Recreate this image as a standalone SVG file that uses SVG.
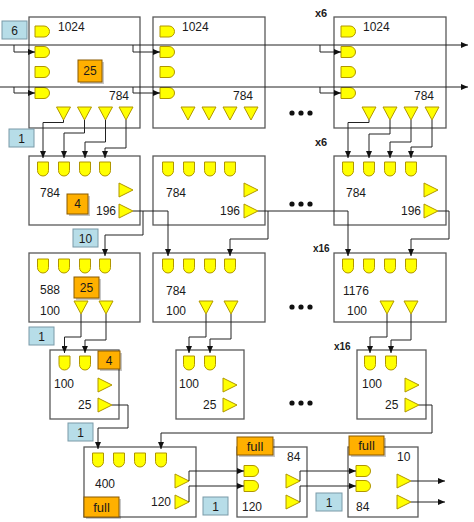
<svg xmlns="http://www.w3.org/2000/svg" width="474" height="522" viewBox="0 0 474 522">
<defs>
<marker id="ar" markerUnits="userSpaceOnUse" markerWidth="7" markerHeight="6" refX="7" refY="3" orient="auto"><path d="M0,0 L7,3 L0,6 Z" fill="#111"/></marker>
<path id="gR" d="M0,0 H9 A5.5,5.5 0 0 1 9,11 H0 Z"/>
<path id="gU" d="M0,0 H11 V8.5 A5.5,5.5 0 0 1 0,8.5 Z"/>
<path id="tD" d="M-7,0 H7 L0,13 Z"/>
<path id="tR" d="M0,-7 V7 L14,0 Z"/>
</defs>
<style>
.box{fill:#fff;stroke:#595959;stroke-width:1.3}
.y{fill:#ffff00;stroke:#b09600;stroke-width:1}
.or{fill:#ffb000;stroke:#8a5a00;stroke-width:1}
.sh{fill:#000;opacity:.22}
.lb{fill:#b7dde8;stroke:#7a9aa8;stroke-width:1}
text{font-family:"Liberation Sans",Arial,sans-serif;font-size:12px;fill:#1a1a1a}
.c{text-anchor:middle}
.b{font-weight:bold;font-size:11px}
.s{font-weight:bold;font-size:10px}
.f{font-size:13px}
.ln{fill:none;stroke:#222;stroke-width:1}
.a{marker-end:url(#ar)}
.dot{fill:#111}
</style>
<rect width="474" height="522" fill="#fff"/>

<!-- Row 1 -->
<g id="A1">
<rect class="box" x="29" y="17" width="111" height="111"/>
<use href="#gR" class="y" x="35" y="26"/><use href="#gR" class="y" x="35" y="46.5"/><use href="#gR" class="y" x="35" y="66.5"/><use href="#gR" class="y" x="35" y="87.5"/>
<text x="58" y="31">1024</text><text x="109" y="100">784</text>
<rect class="sh" x="80" y="62" width="24" height="22"/><rect class="or" x="78" y="60" width="24" height="22"/><text class="c" x="90" y="75">25</text>
<use href="#tD" class="y" x="63.5" y="107"/><use href="#tD" class="y" x="84.5" y="107"/><use href="#tD" class="y" x="105.5" y="107"/><use href="#tD" class="y" x="126" y="107"/>
</g>
<g id="B1">
<rect class="box" x="153" y="17" width="112" height="111"/>
<use href="#gR" class="y" x="160" y="26"/><use href="#gR" class="y" x="160" y="46.5"/><use href="#gR" class="y" x="160" y="66.5"/><use href="#gR" class="y" x="160" y="87.5"/>
<text x="182" y="31">1024</text><text x="233" y="100">784</text>
<use href="#tD" class="y" x="188" y="107"/><use href="#tD" class="y" x="209" y="107"/><use href="#tD" class="y" x="230" y="107"/><use href="#tD" class="y" x="251" y="107"/>
</g>
<g id="C1">
<rect class="box" x="334" y="17" width="112" height="111"/>
<use href="#gR" class="y" x="341" y="26"/><use href="#gR" class="y" x="341" y="46.5"/><use href="#gR" class="y" x="341" y="66.5"/><use href="#gR" class="y" x="341" y="87.5"/>
<text x="363" y="31">1024</text><text x="414" y="100">784</text>
<use href="#tD" class="y" x="369" y="107"/><use href="#tD" class="y" x="390" y="107"/><use href="#tD" class="y" x="411" y="107"/><use href="#tD" class="y" x="432" y="107"/>
</g>

<!-- Row 2 -->
<g id="A2">
<rect class="box" x="29" y="156" width="111" height="69"/>
<use href="#gU" class="y" x="37.5" y="162"/><use href="#gU" class="y" x="58.5" y="162"/><use href="#gU" class="y" x="79.5" y="162"/><use href="#gU" class="y" x="99.5" y="162"/>
<text x="40" y="197">784</text><text x="96" y="215">196</text>
<rect class="sh" x="69" y="196" width="21" height="20"/><rect class="or" x="67" y="194" width="21" height="20"/><text class="c" x="77.5" y="208">4</text>
<use href="#tR" class="y" x="119" y="190"/><use href="#tR" class="y" x="119" y="211"/>
</g>
<g id="B2">
<rect class="box" x="153" y="156" width="112" height="69"/>
<use href="#gU" class="y" x="162.5" y="162"/><use href="#gU" class="y" x="183.5" y="162"/><use href="#gU" class="y" x="204.5" y="162"/><use href="#gU" class="y" x="224.5" y="162"/>
<text x="166" y="197">784</text><text x="220" y="215">196</text>
<use href="#tR" class="y" x="244" y="190"/><use href="#tR" class="y" x="244" y="211"/>
</g>
<g id="C2">
<rect class="box" x="334" y="156" width="112" height="69"/>
<use href="#gU" class="y" x="342.5" y="162"/><use href="#gU" class="y" x="363.5" y="162"/><use href="#gU" class="y" x="384.5" y="162"/><use href="#gU" class="y" x="405.5" y="162"/>
<text x="346" y="197">784</text><text x="401" y="215">196</text>
<use href="#tR" class="y" x="424" y="190"/><use href="#tR" class="y" x="424" y="211"/>
</g>

<!-- Row 3 -->
<g id="A3">
<rect class="box" x="29" y="253" width="111" height="69"/>
<use href="#gU" class="y" x="37.5" y="259"/><use href="#gU" class="y" x="58.5" y="259"/><use href="#gU" class="y" x="79.5" y="259"/><use href="#gU" class="y" x="99.5" y="259"/>
<text x="40" y="294">588</text><text x="40" y="315">100</text>
<rect class="sh" x="76" y="279" width="25" height="21"/><rect class="or" x="74" y="277" width="25" height="21"/><text class="c" x="86.5" y="292">25</text>
<use href="#tD" class="y" x="81" y="301"/><use href="#tD" class="y" x="106" y="301"/>
</g>
<g id="B3">
<rect class="box" x="153" y="253" width="112" height="69"/>
<use href="#gU" class="y" x="162.5" y="259"/><use href="#gU" class="y" x="183.5" y="259"/><use href="#gU" class="y" x="204.5" y="259"/><use href="#gU" class="y" x="224.5" y="259"/>
<text x="166" y="295">784</text><text x="166" y="315">100</text>
<use href="#tD" class="y" x="206" y="301"/><use href="#tD" class="y" x="231" y="301"/>
</g>
<g id="C3">
<rect class="box" x="334" y="253" width="112" height="69"/>
<use href="#gU" class="y" x="342.5" y="259"/><use href="#gU" class="y" x="363.5" y="259"/><use href="#gU" class="y" x="384.5" y="259"/><use href="#gU" class="y" x="405.5" y="259"/>
<text x="343" y="295">1176</text><text x="347" y="315">100</text>
<use href="#tD" class="y" x="387" y="301"/><use href="#tD" class="y" x="411" y="301"/>
</g>

<!-- Row 4 -->
<g id="A4">
<rect class="box" x="50" y="350" width="69" height="69"/>
<use href="#gU" class="y" x="59" y="356"/><use href="#gU" class="y" x="79.5" y="356"/>
<text x="54" y="388">100</text><text x="78" y="409">25</text>
<rect class="sh" x="100" y="353" width="22" height="18"/><rect class="or" x="98" y="351" width="22" height="18"/><text class="c" x="109" y="364.5">4</text>
<use href="#tR" class="y" x="98" y="385"/><use href="#tR" class="y" x="98" y="405"/>
</g>
<g id="B4">
<rect class="box" x="176" y="350" width="68" height="69"/>
<use href="#gU" class="y" x="183.5" y="356"/><use href="#gU" class="y" x="204.5" y="356"/>
<text x="179" y="388">100</text><text x="203" y="409">25</text>
<use href="#tR" class="y" x="223" y="385"/><use href="#tR" class="y" x="223" y="405"/>
</g>
<g id="C4">
<rect class="box" x="357" y="350" width="69" height="69"/>
<use href="#gU" class="y" x="364.5" y="356"/><use href="#gU" class="y" x="385.5" y="356"/>
<text x="362" y="388">100</text><text x="385" y="409">25</text>
<use href="#tR" class="y" x="405" y="385"/><use href="#tR" class="y" x="405" y="405"/>
</g>

<!-- Row 5 -->
<g id="D">
<rect class="box" x="84" y="447" width="112" height="70"/>
<use href="#gU" class="y" x="92.5" y="453"/><use href="#gU" class="y" x="113.5" y="453"/><use href="#gU" class="y" x="134.5" y="453"/><use href="#gU" class="y" x="155.5" y="453"/>
<text x="95" y="488">400</text><text x="151" y="506">120</text>
<rect class="sh" x="86" y="499" width="35" height="20"/><rect class="or" x="84" y="497" width="35" height="20"/><text class="c f" x="101.5" y="511.5">full</text>
<use href="#tR" class="y" x="175" y="481"/><use href="#tR" class="y" x="175" y="502"/>
</g>
<g id="E">
<rect class="box" x="237" y="447" width="70" height="70"/>
<rect class="sh" x="239" y="439" width="36" height="18"/><rect class="or" x="237" y="437" width="36" height="18"/><text class="c f" x="255" y="450.5">full</text>
<text x="287" y="461">84</text><text x="242" y="511">120</text>
<use href="#gR" class="y" x="244" y="465.5"/><use href="#gR" class="y" x="244" y="480.5"/>
<use href="#tR" class="y" x="286" y="481"/><use href="#tR" class="y" x="286" y="502"/>
</g>
<g id="F">
<rect class="box" x="348" y="447" width="70" height="70"/>
<rect class="sh" x="351" y="438" width="35" height="19"/><rect class="or" x="349" y="436" width="35" height="19"/><text class="c f" x="366.5" y="450">full</text>
<text x="397" y="461">10</text><text x="356" y="511">84</text>
<use href="#gR" class="y" x="356" y="465.5"/><use href="#gR" class="y" x="356" y="480.5"/>
<use href="#tR" class="y" x="397" y="481"/><use href="#tR" class="y" x="397" y="502"/>
</g>

<!-- Labels -->
<g id="L6"><rect class="lb" x="2" y="21" width="25" height="18"/><text class="c" x="14.5" y="34.5">6</text></g>
<g id="L1a"><rect class="lb" x="9" y="129" width="25" height="18"/><text class="c" x="21.5" y="142.5">1</text></g>
<g id="L10"><rect class="lb" x="73" y="229" width="25" height="18"/><text class="c" x="85.5" y="242.5">10</text></g>
<g id="L1b"><rect class="lb" x="29" y="327" width="25" height="18"/><text class="c" x="41.5" y="340.5">1</text></g>
<g id="L1c"><rect class="lb" x="68" y="423" width="25" height="18"/><text class="c" x="80.5" y="436.5">1</text></g>
<g id="L1d"><rect class="lb" x="203" y="497" width="25" height="18"/><text class="c" x="215.5" y="510.5">1</text></g>
<g id="L1e"><rect class="lb" x="316" y="493" width="26" height="18"/><text class="c" x="329" y="506.5">1</text></g>

<g id="mult">
<text class="b" x="315" y="17">x6</text>
<text class="b" x="315" y="146">x6</text>
<text class="s" x="313" y="252">x16</text>
<text class="s" x="334" y="350">x16</text>
</g>
<g id="dots">
<circle class="dot" cx="292" cy="113" r="2.6"/><circle class="dot" cx="301" cy="113" r="2.6"/><circle class="dot" cx="310" cy="113" r="2.6"/>
<circle class="dot" cx="292" cy="204" r="2.6"/><circle class="dot" cx="301" cy="204" r="2.6"/><circle class="dot" cx="310" cy="204" r="2.6"/>
<circle class="dot" cx="292" cy="307" r="2.6"/><circle class="dot" cx="301" cy="307" r="2.6"/><circle class="dot" cx="310" cy="307" r="2.6"/>
<circle class="dot" cx="292" cy="403" r="2.6"/><circle class="dot" cx="301" cy="403" r="2.6"/><circle class="dot" cx="310" cy="403" r="2.6"/>
</g>

<g id="connectors">
<path class="ln a" d="M0,45 H468"/>
<path class="ln a" d="M0,87 H468"/>
<path class="ln a" d="M14,45 V52 H35"/>
<path class="ln a" d="M14,87 V93 H35"/>
<path class="ln a" d="M133,45 V52 H160"/>
<path class="ln a" d="M133,87 V93 H160"/>
<path class="ln a" d="M320,45 V52 H341"/>
<path class="ln a" d="M320,87 V93 H341"/>
<path class="ln a" d="M63.5,120 V122.5 H43 V158"/>
<path class="ln a" d="M84.5,120 V133 H64 V158"/>
<path class="ln a" d="M105.5,120 V142 H85 V158"/>
<path class="ln a" d="M126,120 V148 H105 V158"/>
<path class="ln a" d="M369,120 V122.5 H348 V158"/>
<path class="ln a" d="M390,120 V134 H369 V158"/>
<path class="ln a" d="M411,120 V142 H390 V158"/>
<path class="ln a" d="M432,120 V147 H411 V158"/>
<path class="ln a" d="M133,211 H168 V256"/>
<path class="ln a" d="M143,211 V235 H105 V256"/>
<path class="ln a" d="M258,211 H348 V256"/>
<path class="ln a" d="M268,211 V239 H230 V256"/>
<path class="ln a" d="M438,211 H449 V239 H411 V256"/>
<path class="ln a" d="M81,314 V337 H64.5 V353"/>
<path class="ln a" d="M106,314 V340 H85 V353"/>
<path class="ln a" d="M206,314 V337 H189 V353"/>
<path class="ln a" d="M231,314 V339 H210 V353"/>
<path class="ln a" d="M387,314 V337 H370 V353"/>
<path class="ln a" d="M411,314 V340 H391 V353"/>
<path class="ln a" d="M112,405 H128 V428 H98 V449"/>
<path class="ln a" d="M419,405 H432 V433 H161 V449"/>
<path class="ln a" d="M189,481 V471 H244"/>
<path class="ln a" d="M189,502 V486 H244"/>
<path class="ln a" d="M300,481 V471 H356"/>
<path class="ln a" d="M300,502 V486 H356"/>
<path class="ln a" d="M411,481 H445"/>
<path class="ln a" d="M411,502 H445"/>
</g>
</svg>
